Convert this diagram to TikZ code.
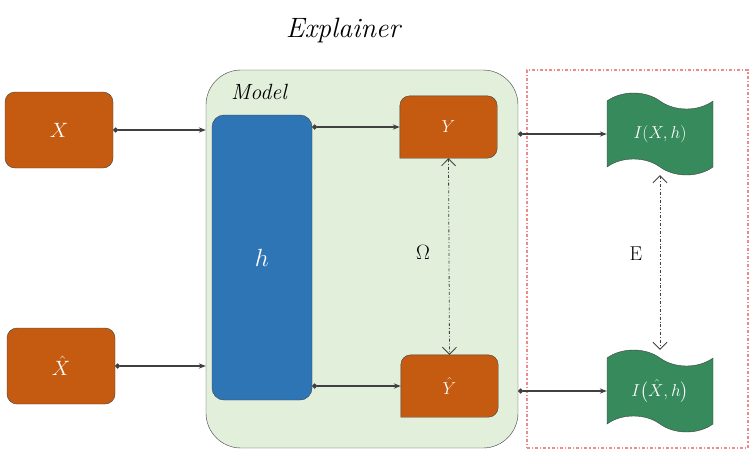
\documentclass[tikz,border=0pt]{standalone}
\usepackage{amsmath}
\usetikzlibrary{shapes,shapes.symbols,arrows.meta,positioning}
\definecolor{rust}{HTML}{C55A11}
\definecolor{bluebox}{HTML}{2E75B6}
\definecolor{greenbg}{HTML}{E2EFDA}
\definecolor{tapegreen}{HTML}{378A5C}
\definecolor{redline}{HTML}{F08A8A}
\definecolor{linegray}{HTML}{404040}

\begin{document}
\begin{tikzpicture}[x=1pt, y=-1pt, align=center]
    \tikzset{
        inbox/.style    =   { rectangle
                            , rounded corners=10pt
                            , draw=linegray
                            , fill=rust
                            , text=white
                            , minimum width=108pt
                            , minimum height=76pt
                            , font=\fontsize{22}{24}\selectfont
        }
        , outbox/.style =   { rectangle
                            , minimum width=97pt
                            , minimum height=62pt
        }
        , info/.style   =   { tape
                            , tape bend top=out and in
                            , tape bend bottom=out and in
                            , tape bend height=16pt
                            , draw=linegray
                            , fill=tapegreen
                            , text=white
                            , minimum width=106pt
                            , minimum height=82pt
                            , font=\fontsize{19}{21}\selectfont
        }
        , arrow/.style  =   { very thick
                            , draw=linegray
                            , {Circle[length=5pt]}-{Stealth[length=7pt]}
        }
        , dotted/.style =   { thick
                            , draw=linegray
                            , dash dot
                            , {Straight Barb[length=7pt]}-{Straight Barb[length=7pt]}
        }
    }
    \useasboundingbox (0,0) rectangle (752,453);
    % frames
    \node(model)[draw=linegray, fill=greenbg, rounded corners=35pt, minimum width=312pt, minimum height=378pt] at (362,259) {};
    \node(expl)[draw=redline, very thick, dash dot, minimum width=221pt, minimum height=378pt] at (637.5,259) {};
    \node(title) at (343,30) {\fontsize{28}{30}\selectfont\itshape Explainer};
    \node(mlabel) at (259,92) {\fontsize{22}{24}\selectfont\itshape Model};
    % boxes
    \node(x)[inbox] at (59,130) {$X$};
    \node(xh)[inbox] at (61,366) {$\hat{X}$};
    \node(h)[inbox, fill=bluebox, minimum width=100pt, minimum height=285pt, rounded corners=12pt, font=\fontsize{30}{32}\selectfont] at (262,257.5) {$h$};
    \foreach \n/\px/\py/\lab in {y/448.5/127/Y, yh/449.5/386/\hat{Y}} {
        \node(\n)[outbox] at (\px,\py) {};
        \filldraw[draw=linegray, fill=rust, rounded corners=10pt] (\n.south west) -- (\n.north west) -- (\n.north east) -- (\n.south east) [sharp corners] -- cycle;
        \node[text=white, font=\fontsize{16}{18}\selectfont] at (\n) {$\lab$};
    }
    \node(ix)[info] at (660,134) {$I(X,h)$};
    \node(ixh)[info] at (660,391) {$I\big(\hat{X},h\big)$};

    \draw[arrow] (x.east) -- (x.east -| model.west);
    \draw[arrow] (xh.east) -- (xh.east -| model.west);
    \draw[arrow] (h.east |- y.west) -- (y.west);
    \draw[arrow] (h.east |- yh.west) -- (yh.west);
    \draw[arrow] (model.east |- ix.west) -- (ix.west);
    \draw[arrow] (model.east |- ixh.west) -- (ixh.west);
    \draw[dotted] (y.south) -- (yh.north);
    \draw[dotted] ([yshift=-8pt]ix.south) -- ([yshift=8pt]ixh.north);
    \node(omega) at (423,252) {\fontsize{20}{22}\selectfont$\Omega$};
    \node(e) at (636,254) {\fontsize{20}{22}\selectfont E};
\end{tikzpicture}
\end{document}
